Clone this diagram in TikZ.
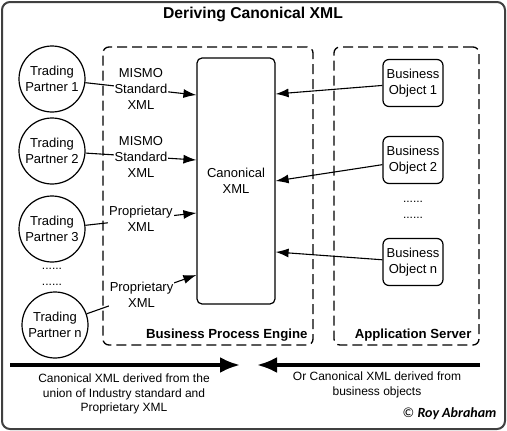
\documentclass[tikz,border=0pt]{standalone}
\usepackage{fontspec}
\setmainfont{Liberation Sans}
\newfontfamily\calfont{Carlito}
\usetikzlibrary{positioning,arrows.meta}

\begin{document}
\begin{tikzpicture}[x=1pt,y=-1pt,
  tp/.style={draw,circle,line width=1.2pt,minimum size=66pt,inner sep=0pt,align=center,font=\fontsize{13}{16}\selectfont},
  bo/.style={draw,rounded corners=6pt,line width=1.2pt,minimum width=60pt,minimum height=47pt,inner sep=0pt,align=center,font=\fontsize{13}{16}\selectfont},
  lbl/.style={fill=white,inner sep=1pt,align=center,font=\fontsize{13}{16}\selectfont},
  grp/.style={draw,line width=1.3pt,dash pattern=on 10pt off 5pt,rounded corners=6pt},
  hd/.style={font=\fontsize{13.2}{16}\selectfont\bfseries},
  note/.style={align=center,font=\fontsize{12}{14.5}\selectfont},
  dots/.style={font=\fontsize{12}{14}\selectfont,inner sep=0pt},
  con/.style={-{Latex[length=13pt,width=9pt]},line width=1.1pt},
  big/.style={-{Latex[length=20pt,width=16pt]},line width=3.5pt}]
  \useasboundingbox (0,0) rectangle (507,431);
  % frame and title
  \node[draw=black!75,line width=2pt,rounded corners=8pt,minimum width=503pt,minimum height=427pt] (frame) at (253.5,215.5) {};
  \node[font=\fontsize{15.7}{18}\selectfont\bfseries] (ttl) at (253,14) {Deriving Canonical XML};
  % groups
  \node[grp,minimum width=210pt,minimum height=298pt] (bpe) at (208,196) {};
  \node[grp,minimum width=145pt,minimum height=298pt] (aps) at (406.5,196) {};
  \node[hd,anchor=east] (bpel) at (311,335) {Business Process Engine};
  \node[hd,anchor=east] (apsl) at (475,335) {Application Server};
  % canonical xml
  \node[draw,line width=1.2pt,rounded corners=5pt,minimum width=78pt,minimum height=246pt,align=center,font=\fontsize{13}{16}\selectfont] (cx) at (236,181) {Canonical\\XML};
  % trading partners
  \node[tp] (a1) at (52,79) {Trading\\Partner 1};
  \node[tp] (a2) at (52,151) {Trading\\Partner 2};
  \node[tp] (a3) at (52,229) {Trading\\Partner 3};
  \node[dots] (d1) at (52,269) {......};
  \node[dots] (d2) at (52,285) {......};
  \node[tp] (a4) at (55,325) {Trading\\Partner n};
  % business objects
  \node[bo] (b1) at (413,83) {Business\\Object 1};
  \node[bo] (b2) at (413,160) {Business\\Object 2};
  \node[dots] (d3) at (413,202) {......};
  \node[dots] (d4) at (413,218) {......};
  \node[bo] (b3) at (413,262) {Business\\Object n};
  % connectors
  \draw[con] (a1) -- node[lbl] {MISMO\\Standard\\XML} ([yshift=86pt]cx.west);
  \draw[con] (a2) -- node[lbl] {MISMO\\Standard\\XML} ([yshift=21pt]cx.west);
  \draw[con] (a3) -- node[lbl] {Proprietary\\XML} ([yshift=-32pt]cx.west);
  \draw[con] (a4) -- node[lbl] {Proprietary\\XML} ([yshift=-94pt]cx.west);
  \draw[con] (b1) -- ([yshift=87pt]cx.east);
  \draw[con] (b2) -- (cx.east);
  \draw[con] (b3) -- ([yshift=-71pt]cx.east);
  % bottom
  \coordinate (l0) at (10,365);
  \coordinate (l1) at (240,365);
  \coordinate (r0) at (480,365);
  \coordinate (r1) at (257,365);
  \draw[big] (l0) -- (l1);
  \draw[big] (r0) -- (r1);
  \node[note] (t1) at (124,394) {Canonical XML derived from the\\union of Industry standard and\\Proprietary XML};
  \node[note] (t2) at (377,385) {Or Canonical XML derived from\\business objects};
  \node[anchor=east,font=\fontsize{14}{16}\calfont] (cr) at (500,414) {© \textbf{\textit{Roy Abraham}}};
\end{tikzpicture}
\end{document}
